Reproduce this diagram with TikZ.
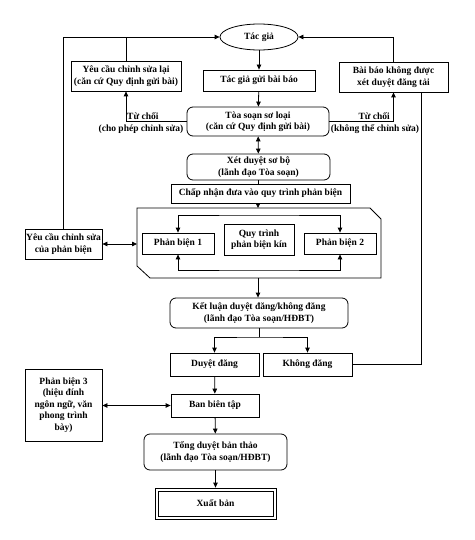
\documentclass[tikz,border=0pt]{standalone}
\usepackage{fontspec}
\setmainfont{Liberation Serif}
\usetikzlibrary{shapes.geometric,arrows.meta}
\begin{document}
\begin{tikzpicture}[x=1pt,y=-1pt,font=\fontsize{9.5}{11.5}\selectfont\bfseries]
\tikzset{
 base/.style={draw=black, line width=0.8pt, inner sep=1pt, align=center},
 rbox/.style={base, rectangle},
 rnd/.style={base, rectangle, rounded corners=6pt},
 ell/.style={base, ellipse},
 con/.style={line width=0.8pt},
 arr/.style={con, -{Triangle[length=5pt,width=4.5pt]}},
 darr/.style={con, {Triangle[length=5pt,width=4.5pt]}-{Triangle[length=5pt,width=4.5pt]}},
 lbl/.style={inner sep=0pt},
}
\useasboundingbox (0,0) rectangle (474,540);

% nodes
\node[ell, minimum width=78pt, minimum height=26pt] (tacgia) at (259,37) {Tác giả};
\node[rbox, minimum width=110pt, minimum height=30pt] (yc1) at (126,76) {Yêu cầu chỉnh sửa lại\\(căn cứ Quy định gửi bài)};
\node[rbox, minimum width=112pt, minimum height=21pt] (gui) at (259,80.5) {Tác giả gửi bài báo};
\node[rbox, minimum width=109pt, minimum height=30pt] (baibao) at (393.5,77) {Bài báo không được\\xét duyệt đăng tải};
\node[rnd, minimum width=142pt, minimum height=29pt] (toasoan) at (258,121.5) {Tòa soạn sơ loại\\(căn cứ Quy định gửi bài)};
\node[rnd, minimum width=143pt, minimum height=26pt] (xetduyet) at (258.5,167) {Xét duyệt sơ bộ\\(lãnh đạo Tòa soạn)};
\node[rbox, minimum width=179pt, minimum height=19pt] (chapnhan) at (260.5,193.5) {Chấp nhận đưa vào quy trình phản biện};

% container
\draw[con] (137,208) -- (370,208) -- (381,219) -- (381,278) -- (150,278) -- (137,266) -- cycle;
\coordinate (ctop) at (258,208);
\coordinate (cbot) at (258,278);
\coordinate (cleft) at (137,244);
\coordinate (ltop) at (259,215);
\coordinate (lbot) at (259,270);

\node[rbox, minimum width=72pt, minimum height=21pt] (pb1) at (178,243.5) {Phản biện 1};
\node[rbox, minimum width=70pt, minimum height=31pt] (qt) at (259,239.5) {Quy trình\\phản biện kín};
\node[rbox, minimum width=72pt, minimum height=21pt] (pb2) at (340,243.5) {Phản biện 2};
\node[rbox, minimum width=77pt, minimum height=30pt] (ycpb) at (63.5,244) {Yêu cầu chỉnh sửa\\của phản biện};

\node[rnd, minimum width=178pt, minimum height=30pt] (ketluan) at (259,313) {Kết luận duyệt đăng/không đăng\\(lãnh đạo Tòa soạn/HĐBT)};
\coordinate (split) at (259,337);
\node[rbox, minimum width=89pt, minimum height=23pt] (duyet) at (214.5,364.5) {Duyệt đăng};
\node[rbox, minimum width=89pt, minimum height=23pt] (khong) at (307.5,364.5) {Không đăng};
\node[rbox, minimum width=88pt, minimum height=23pt] (ban) at (215,405.5) {Ban biên tập};
\node[rbox, minimum width=77pt, minimum height=72pt] (pb3) at (63.5,405) {Phản biện 3\\(hiệu đính\\ngôn ngữ, văn\\phong trình\\bày)};
\node[rnd, minimum width=143pt, minimum height=36pt] (tong) at (215.5,452) {Tổng duyệt bản thảo\\(lãnh đạo Tòa soạn/HĐBT)};
\node[rbox, minimum width=121pt, minimum height=31pt] (xuat) at (215.5,503.5) {Xuất bản};
\draw[con] ([shift={(3.5pt,-3.5pt)}]xuat.north west) rectangle ([shift={(-3.5pt,3.5pt)}]xuat.south east);

% connectors
\draw[arr] (tacgia) -- (gui);
\draw[arr] (gui) -- (toasoan);
\draw[darr] (toasoan) -- (xetduyet);
\draw[con] (xetduyet) -- (xetduyet |- chapnhan.north);
\draw[arr] (chapnhan.south -| ctop) -- (ctop);
\draw[darr] (pb1.north) |- (ltop) -| (pb2.north);
\draw[darr] (pb1.south) |- (lbot) -| (pb2.south);
\draw[darr] (ycpb.east) -- (cleft);
\draw[arr] (cbot) -- (ketluan.north -| cbot);
\draw[con] (ketluan.south) -- (split);
\draw[darr] (duyet.north) |- (split) -| (khong.north);
\draw[arr] (duyet) -- (ban);
\draw[darr] (pb3.east |- ban) -- (ban.west);
\draw[arr] (ban) -- (tong);
\draw[arr] (tong) -- (xuat);

\draw[arr] (ycpb.north) |- (tacgia.west);
\draw[con] (yc1.north) -- (yc1.north |- tacgia.west);
\draw[arr] (toasoan.west) -| (yc1.south);
\draw[arr] (toasoan.east) -| (baibao.south);
\draw[arr] (baibao.north) |- (tacgia.east);
\draw[con] (khong.east) -| ([xshift=27.5pt]baibao.south);

% labels
\node[lbl, anchor=base west] (l1) at (127,119.5) {Từ chối};
\node[lbl, anchor=base] (l2) at (141,132) {(cho phép chỉnh sửa)};
\node[lbl, anchor=base east] (l3) at (390,119.5) {Từ chối};
\node[lbl, anchor=base] (l4) at (375,132) {(không thể chỉnh sửa)};
\end{tikzpicture}
\end{document}
